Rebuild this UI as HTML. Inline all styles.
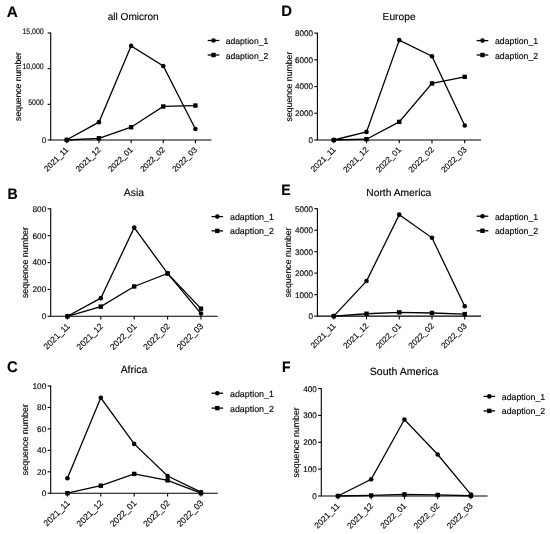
<!DOCTYPE html>
<html><head><meta charset="utf-8"><title>Figure</title>
<style>html,body{margin:0;padding:0;background:#fff}svg{display:block}</style></head>
<body>
<svg width="550" height="534" viewBox="0 0 550 534" font-family='"Liberation Sans", Arial, sans-serif' fill="#000"><style>text{stroke:#000;stroke-width:0.13px;text-rendering:geometricPrecision}</style>
<rect width="550" height="534" fill="#fff"/>
<g>
<text transform="translate(6.8 16.5) scale(1 1)" font-size="15.3" font-weight="bold" text-rendering="geometricPrecision">A</text>
<text x="133.2" y="19.6" font-size="10.10" text-anchor="middle">all Omicron</text>
<path d="M50.7 32.55V140H211.5" fill="none" stroke="#000" stroke-width="1.1"/>
<path d="M47.6 140.00H50.7" stroke="#000" stroke-width="1.1"/>
<text transform="translate(46.30 142.90) scale(1 1)" font-size="8.00" text-anchor="end">0</text>
<path d="M47.6 104.33H50.7" stroke="#000" stroke-width="1.1"/>
<text transform="translate(43.70 104.93) scale(0.87 1)" font-size="8.00" text-anchor="end">5000</text>
<path d="M47.6 68.67H50.7" stroke="#000" stroke-width="1.1"/>
<text transform="translate(43.70 69.27) scale(0.87 1)" font-size="8.00" text-anchor="end">10,000</text>
<path d="M47.6 33.00H50.7" stroke="#000" stroke-width="1.1"/>
<text transform="translate(43.70 33.60) scale(0.87 1)" font-size="8.00" text-anchor="end">15,000</text>
<text transform="translate(20.5 86.50) rotate(-90)" font-size="8.60" text-anchor="middle">sequence number</text>
<path d="M66.78 140V143.3" stroke="#000" stroke-width="1.1"/>
<text transform="translate(68.98 150.30) rotate(-45)" font-size="8.0" text-anchor="end">2021_11</text>
<path d="M98.94 140V143.3" stroke="#000" stroke-width="1.1"/>
<text transform="translate(101.14 150.30) rotate(-45)" font-size="8.0" text-anchor="end">2021_12</text>
<path d="M131.10 140V143.3" stroke="#000" stroke-width="1.1"/>
<text transform="translate(133.30 150.30) rotate(-45)" font-size="8.0" text-anchor="end">2022_01</text>
<path d="M163.26 140V143.3" stroke="#000" stroke-width="1.1"/>
<text transform="translate(165.46 150.30) rotate(-45)" font-size="8.0" text-anchor="end">2022_02</text>
<path d="M195.42 140V143.3" stroke="#000" stroke-width="1.1"/>
<text transform="translate(197.62 150.30) rotate(-45)" font-size="8.0" text-anchor="end">2022_03</text>
<polyline fill="none" stroke="#000" stroke-width="1.3" points="66.78,139.79 98.94,122.17 131.10,45.91 163.26,65.96 195.42,128.98"/>
<circle cx="66.78" cy="139.79" r="2.3"/>
<circle cx="98.94" cy="122.17" r="2.3"/>
<circle cx="131.10" cy="45.91" r="2.3"/>
<circle cx="163.26" cy="65.96" r="2.3"/>
<circle cx="195.42" cy="128.98" r="2.3"/>
<polyline fill="none" stroke="#000" stroke-width="1.3" points="66.78,140.00 98.94,138.29 131.10,127.23 163.26,106.47 195.42,105.55"/>
<rect x="64.58" y="137.80" width="4.4" height="4.4"/>
<rect x="96.74" y="136.09" width="4.4" height="4.4"/>
<rect x="128.90" y="125.03" width="4.4" height="4.4"/>
<rect x="161.06" y="104.27" width="4.4" height="4.4"/>
<rect x="193.22" y="103.35" width="4.4" height="4.4"/>
<path d="M207.7 40.5H219.3" stroke="#000" stroke-width="1.3"/>
<circle cx="213.5" cy="40.5" r="2.3"/>
<text x="225.7" y="44.00" font-size="8.60">adaption_1</text>
<path d="M207.7 55.0H219.3" stroke="#000" stroke-width="1.3"/>
<rect x="211.30" y="52.80" width="4.4" height="4.4"/>
<text x="225.7" y="58.50" font-size="8.60">adaption_2</text>
</g>
<g>
<text transform="translate(7.6 199.3) scale(0.92 1)" font-size="15.3" font-weight="bold" text-rendering="geometricPrecision">B</text>
<text x="134" y="195.5" font-size="10.45" text-anchor="middle">Asia</text>
<path d="M50.7 208.35000000000002V316.3H217.7" fill="none" stroke="#000" stroke-width="1.1"/>
<path d="M47.6 316.30H50.7" stroke="#000" stroke-width="1.1"/>
<text transform="translate(46.30 319.20) scale(1 1)" font-size="8.28" text-anchor="end">0</text>
<path d="M47.6 289.43H50.7" stroke="#000" stroke-width="1.1"/>
<text transform="translate(46.30 292.32) scale(1 1)" font-size="8.28" text-anchor="end">200</text>
<path d="M47.6 262.55H50.7" stroke="#000" stroke-width="1.1"/>
<text transform="translate(46.30 265.45) scale(1 1)" font-size="8.28" text-anchor="end">400</text>
<path d="M47.6 235.68H50.7" stroke="#000" stroke-width="1.1"/>
<text transform="translate(46.30 238.58) scale(1 1)" font-size="8.28" text-anchor="end">600</text>
<path d="M47.6 208.80H50.7" stroke="#000" stroke-width="1.1"/>
<text transform="translate(46.30 211.70) scale(1 1)" font-size="8.28" text-anchor="end">800</text>
<text transform="translate(27.5 262.55) rotate(-90)" font-size="8.90" text-anchor="middle">sequence number</text>
<path d="M67.40 316.3V319.6" stroke="#000" stroke-width="1.1"/>
<text transform="translate(70.30 326.80) rotate(-45)" font-size="8.6" text-anchor="end">2021_11</text>
<path d="M100.80 316.3V319.6" stroke="#000" stroke-width="1.1"/>
<text transform="translate(103.70 326.80) rotate(-45)" font-size="8.6" text-anchor="end">2021_12</text>
<path d="M134.20 316.3V319.6" stroke="#000" stroke-width="1.1"/>
<text transform="translate(137.10 326.80) rotate(-45)" font-size="8.6" text-anchor="end">2022_01</text>
<path d="M167.60 316.3V319.6" stroke="#000" stroke-width="1.1"/>
<text transform="translate(170.50 326.80) rotate(-45)" font-size="8.6" text-anchor="end">2022_02</text>
<path d="M201.00 316.3V319.6" stroke="#000" stroke-width="1.1"/>
<text transform="translate(203.90 326.80) rotate(-45)" font-size="8.6" text-anchor="end">2022_03</text>
<polyline fill="none" stroke="#000" stroke-width="1.3" points="67.40,316.30 100.80,298.16 134.20,227.61 167.60,273.43 201.00,313.61"/>
<circle cx="67.40" cy="316.30" r="2.3"/>
<circle cx="100.80" cy="298.16" r="2.3"/>
<circle cx="134.20" cy="227.61" r="2.3"/>
<circle cx="167.60" cy="273.43" r="2.3"/>
<circle cx="201.00" cy="313.61" r="2.3"/>
<polyline fill="none" stroke="#000" stroke-width="1.3" points="67.40,316.30 100.80,306.62 134.20,286.47 167.60,273.43 201.00,308.64"/>
<rect x="65.20" y="314.10" width="4.4" height="4.4"/>
<rect x="98.60" y="304.43" width="4.4" height="4.4"/>
<rect x="132.00" y="284.27" width="4.4" height="4.4"/>
<rect x="165.40" y="271.23" width="4.4" height="4.4"/>
<rect x="198.80" y="306.44" width="4.4" height="4.4"/>
<path d="M211.5 216.6H223.10000000000002" stroke="#000" stroke-width="1.3"/>
<circle cx="217.3" cy="216.6" r="2.3"/>
<text x="230" y="220.10" font-size="8.90">adaption_1</text>
<path d="M211.5 230.9H223.10000000000002" stroke="#000" stroke-width="1.3"/>
<rect x="215.10" y="228.70" width="4.4" height="4.4"/>
<text x="230" y="234.40" font-size="8.90">adaption_2</text>
</g>
<g>
<text transform="translate(6.9 371.7) scale(0.97 1)" font-size="15.3" font-weight="bold" text-rendering="geometricPrecision">C</text>
<text x="134" y="372.5" font-size="10.45" text-anchor="middle">Africa</text>
<path d="M50.7 385.55V493.2H217.7" fill="none" stroke="#000" stroke-width="1.1"/>
<path d="M47.6 493.20H50.7" stroke="#000" stroke-width="1.1"/>
<text transform="translate(46.30 496.10) scale(1 1)" font-size="8.28" text-anchor="end">0</text>
<path d="M47.6 471.76H50.7" stroke="#000" stroke-width="1.1"/>
<text transform="translate(46.30 474.66) scale(1 1)" font-size="8.28" text-anchor="end">20</text>
<path d="M47.6 450.32H50.7" stroke="#000" stroke-width="1.1"/>
<text transform="translate(46.30 453.22) scale(1 1)" font-size="8.28" text-anchor="end">40</text>
<path d="M47.6 428.88H50.7" stroke="#000" stroke-width="1.1"/>
<text transform="translate(46.30 431.78) scale(1 1)" font-size="8.28" text-anchor="end">60</text>
<path d="M47.6 407.44H50.7" stroke="#000" stroke-width="1.1"/>
<text transform="translate(46.30 410.34) scale(1 1)" font-size="8.28" text-anchor="end">80</text>
<path d="M47.6 386.00H50.7" stroke="#000" stroke-width="1.1"/>
<text transform="translate(46.30 388.90) scale(1 1)" font-size="8.28" text-anchor="end">100</text>
<text transform="translate(27.5 439.60) rotate(-90)" font-size="8.90" text-anchor="middle">sequence number</text>
<path d="M67.40 493.2V496.5" stroke="#000" stroke-width="1.1"/>
<text transform="translate(70.30 503.60) rotate(-45)" font-size="8.6" text-anchor="end">2021_11</text>
<path d="M100.80 493.2V496.5" stroke="#000" stroke-width="1.1"/>
<text transform="translate(103.70 503.60) rotate(-45)" font-size="8.6" text-anchor="end">2021_12</text>
<path d="M134.20 493.2V496.5" stroke="#000" stroke-width="1.1"/>
<text transform="translate(137.10 503.60) rotate(-45)" font-size="8.6" text-anchor="end">2022_01</text>
<path d="M167.60 493.2V496.5" stroke="#000" stroke-width="1.1"/>
<text transform="translate(170.50 503.60) rotate(-45)" font-size="8.6" text-anchor="end">2022_02</text>
<path d="M201.00 493.2V496.5" stroke="#000" stroke-width="1.1"/>
<text transform="translate(203.90 503.60) rotate(-45)" font-size="8.6" text-anchor="end">2022_03</text>
<polyline fill="none" stroke="#000" stroke-width="1.3" points="67.40,478.19 100.80,397.79 134.20,443.89 167.60,476.05 201.00,492.13"/>
<circle cx="67.40" cy="478.19" r="2.3"/>
<circle cx="100.80" cy="397.79" r="2.3"/>
<circle cx="134.20" cy="443.89" r="2.3"/>
<circle cx="167.60" cy="476.05" r="2.3"/>
<circle cx="201.00" cy="492.13" r="2.3"/>
<polyline fill="none" stroke="#000" stroke-width="1.3" points="67.40,493.20 100.80,485.70 134.20,473.90 167.60,480.34 201.00,493.20"/>
<rect x="65.20" y="491.00" width="4.4" height="4.4"/>
<rect x="98.60" y="483.50" width="4.4" height="4.4"/>
<rect x="132.00" y="471.70" width="4.4" height="4.4"/>
<rect x="165.40" y="478.14" width="4.4" height="4.4"/>
<rect x="198.80" y="491.00" width="4.4" height="4.4"/>
<path d="M211.5 393.2H223.10000000000002" stroke="#000" stroke-width="1.3"/>
<circle cx="217.3" cy="393.2" r="2.3"/>
<text x="230" y="396.70" font-size="8.90">adaption_1</text>
<path d="M211.5 408.1H223.10000000000002" stroke="#000" stroke-width="1.3"/>
<rect x="215.10" y="405.90" width="4.4" height="4.4"/>
<text x="230" y="411.60" font-size="8.90">adaption_2</text>
</g>
<g>
<text transform="translate(281.2 16.3) scale(0.97 1)" font-size="15.3" font-weight="bold" text-rendering="geometricPrecision">D</text>
<text x="399.1" y="19.6" font-size="10.25" text-anchor="middle">Europe</text>
<path d="M317.4 32.65V140H481.1" fill="none" stroke="#000" stroke-width="1.1"/>
<path d="M314.29999999999995 140.00H317.4" stroke="#000" stroke-width="1.1"/>
<text transform="translate(313.00 142.90) scale(1 1)" font-size="8.12" text-anchor="end">0</text>
<path d="M314.29999999999995 113.28H317.4" stroke="#000" stroke-width="1.1"/>
<text transform="translate(313.00 116.18) scale(1 1)" font-size="8.12" text-anchor="end">2000</text>
<path d="M314.29999999999995 86.55H317.4" stroke="#000" stroke-width="1.1"/>
<text transform="translate(313.00 89.45) scale(1 1)" font-size="8.12" text-anchor="end">4000</text>
<path d="M314.29999999999995 59.83H317.4" stroke="#000" stroke-width="1.1"/>
<text transform="translate(313.00 62.73) scale(1 1)" font-size="8.12" text-anchor="end">6000</text>
<path d="M314.29999999999995 33.10H317.4" stroke="#000" stroke-width="1.1"/>
<text transform="translate(313.00 36.00) scale(1 1)" font-size="8.12" text-anchor="end">8000</text>
<text transform="translate(291.5 86.55) rotate(-90)" font-size="8.73" text-anchor="middle">sequence number</text>
<path d="M333.77 140V143.3" stroke="#000" stroke-width="1.1"/>
<text transform="translate(336.37 150.30) rotate(-45)" font-size="8.25" text-anchor="end">2021_11</text>
<path d="M366.51 140V143.3" stroke="#000" stroke-width="1.1"/>
<text transform="translate(369.11 150.30) rotate(-45)" font-size="8.25" text-anchor="end">2021_12</text>
<path d="M399.25 140V143.3" stroke="#000" stroke-width="1.1"/>
<text transform="translate(401.85 150.30) rotate(-45)" font-size="8.25" text-anchor="end">2022_01</text>
<path d="M431.99 140V143.3" stroke="#000" stroke-width="1.1"/>
<text transform="translate(434.59 150.30) rotate(-45)" font-size="8.25" text-anchor="end">2022_02</text>
<path d="M464.73 140V143.3" stroke="#000" stroke-width="1.1"/>
<text transform="translate(467.33 150.30) rotate(-45)" font-size="8.25" text-anchor="end">2022_03</text>
<polyline fill="none" stroke="#000" stroke-width="1.3" points="333.77,140.00 366.51,131.89 399.25,40.12 431.99,56.22 464.73,125.49"/>
<circle cx="333.77" cy="140.00" r="2.3"/>
<circle cx="366.51" cy="131.89" r="2.3"/>
<circle cx="399.25" cy="40.12" r="2.3"/>
<circle cx="431.99" cy="56.22" r="2.3"/>
<circle cx="464.73" cy="125.49" r="2.3"/>
<polyline fill="none" stroke="#000" stroke-width="1.3" points="333.77,140.00 366.51,139.20 399.25,121.88 431.99,83.45 464.73,76.84"/>
<rect x="331.57" y="137.80" width="4.4" height="4.4"/>
<rect x="364.31" y="137.00" width="4.4" height="4.4"/>
<rect x="397.05" y="119.68" width="4.4" height="4.4"/>
<rect x="429.79" y="81.25" width="4.4" height="4.4"/>
<rect x="462.53" y="74.64" width="4.4" height="4.4"/>
<path d="M476.7 40.6H488.3" stroke="#000" stroke-width="1.3"/>
<circle cx="482.5" cy="40.6" r="2.3"/>
<text x="495" y="44.10" font-size="8.73">adaption_1</text>
<path d="M476.7 55.0H488.3" stroke="#000" stroke-width="1.3"/>
<rect x="480.30" y="52.80" width="4.4" height="4.4"/>
<text x="495" y="58.50" font-size="8.73">adaption_2</text>
</g>
<g>
<text transform="translate(281.2 194.7) scale(0.92 1)" font-size="15.3" font-weight="bold" text-rendering="geometricPrecision">E</text>
<text x="398.8" y="195.5" font-size="10.25" text-anchor="middle">North America</text>
<path d="M317.4 208.25V316.1H481.1" fill="none" stroke="#000" stroke-width="1.1"/>
<path d="M314.29999999999995 316.10H317.4" stroke="#000" stroke-width="1.1"/>
<text transform="translate(313.00 319.00) scale(1 1)" font-size="8.12" text-anchor="end">0</text>
<path d="M314.29999999999995 294.62H317.4" stroke="#000" stroke-width="1.1"/>
<text transform="translate(313.00 297.52) scale(1 1)" font-size="8.12" text-anchor="end">1000</text>
<path d="M314.29999999999995 273.14H317.4" stroke="#000" stroke-width="1.1"/>
<text transform="translate(313.00 276.04) scale(1 1)" font-size="8.12" text-anchor="end">2000</text>
<path d="M314.29999999999995 251.66H317.4" stroke="#000" stroke-width="1.1"/>
<text transform="translate(313.00 254.56) scale(1 1)" font-size="8.12" text-anchor="end">3000</text>
<path d="M314.29999999999995 230.18H317.4" stroke="#000" stroke-width="1.1"/>
<text transform="translate(313.00 233.08) scale(1 1)" font-size="8.12" text-anchor="end">4000</text>
<path d="M314.29999999999995 208.70H317.4" stroke="#000" stroke-width="1.1"/>
<text transform="translate(313.00 211.60) scale(1 1)" font-size="8.12" text-anchor="end">5000</text>
<text transform="translate(291 262.40) rotate(-90)" font-size="8.73" text-anchor="middle">sequence number</text>
<path d="M333.77 316.1V319.40000000000003" stroke="#000" stroke-width="1.1"/>
<text transform="translate(336.37 326.40) rotate(-45)" font-size="8.25" text-anchor="end">2021_11</text>
<path d="M366.51 316.1V319.40000000000003" stroke="#000" stroke-width="1.1"/>
<text transform="translate(369.11 326.40) rotate(-45)" font-size="8.25" text-anchor="end">2021_12</text>
<path d="M399.25 316.1V319.40000000000003" stroke="#000" stroke-width="1.1"/>
<text transform="translate(401.85 326.40) rotate(-45)" font-size="8.25" text-anchor="end">2022_01</text>
<path d="M431.99 316.1V319.40000000000003" stroke="#000" stroke-width="1.1"/>
<text transform="translate(434.59 326.40) rotate(-45)" font-size="8.25" text-anchor="end">2022_02</text>
<path d="M464.73 316.1V319.40000000000003" stroke="#000" stroke-width="1.1"/>
<text transform="translate(467.33 326.40) rotate(-45)" font-size="8.25" text-anchor="end">2022_03</text>
<polyline fill="none" stroke="#000" stroke-width="1.3" points="333.77,316.10 366.51,281.07 399.25,214.63 431.99,237.81 464.73,306.26"/>
<circle cx="333.77" cy="316.10" r="2.3"/>
<circle cx="366.51" cy="281.07" r="2.3"/>
<circle cx="399.25" cy="214.63" r="2.3"/>
<circle cx="431.99" cy="237.81" r="2.3"/>
<circle cx="464.73" cy="306.26" r="2.3"/>
<polyline fill="none" stroke="#000" stroke-width="1.3" points="333.77,316.10 366.51,313.74 399.25,312.34 431.99,312.99 464.73,314.06"/>
<rect x="331.57" y="313.90" width="4.4" height="4.4"/>
<rect x="364.31" y="311.54" width="4.4" height="4.4"/>
<rect x="397.05" y="310.14" width="4.4" height="4.4"/>
<rect x="429.79" y="310.79" width="4.4" height="4.4"/>
<rect x="462.53" y="311.86" width="4.4" height="4.4"/>
<path d="M476.7 216.2H488.3" stroke="#000" stroke-width="1.3"/>
<circle cx="482.5" cy="216.2" r="2.3"/>
<text x="495" y="219.70" font-size="8.73">adaption_1</text>
<path d="M476.7 230.8H488.3" stroke="#000" stroke-width="1.3"/>
<rect x="480.30" y="228.60" width="4.4" height="4.4"/>
<text x="495" y="234.30" font-size="8.73">adaption_2</text>
</g>
<g>
<text transform="translate(282.1 372.4) scale(0.91 1)" font-size="15.3" font-weight="bold" text-rendering="geometricPrecision">F</text>
<text x="404.1" y="375.2" font-size="10.55" text-anchor="middle">South America</text>
<path d="M321.3 388.15000000000003V496H487.6" fill="none" stroke="#000" stroke-width="1.1"/>
<path d="M318.2 496.00H321.3" stroke="#000" stroke-width="1.1"/>
<text transform="translate(316.90 498.90) scale(1 1)" font-size="8.16" text-anchor="end">0</text>
<path d="M318.2 469.15H321.3" stroke="#000" stroke-width="1.1"/>
<text transform="translate(316.90 472.05) scale(1 1)" font-size="8.16" text-anchor="end">100</text>
<path d="M318.2 442.30H321.3" stroke="#000" stroke-width="1.1"/>
<text transform="translate(316.90 445.20) scale(1 1)" font-size="8.16" text-anchor="end">200</text>
<path d="M318.2 415.45H321.3" stroke="#000" stroke-width="1.1"/>
<text transform="translate(316.90 418.35) scale(1 1)" font-size="8.16" text-anchor="end">300</text>
<path d="M318.2 388.60H321.3" stroke="#000" stroke-width="1.1"/>
<text transform="translate(316.90 391.50) scale(1 1)" font-size="8.16" text-anchor="end">400</text>
<text transform="translate(298.6 442.30) rotate(-90)" font-size="8.77" text-anchor="middle">sequence number</text>
<path d="M337.93 496V499.3" stroke="#000" stroke-width="1.1"/>
<text transform="translate(340.23 506.40) rotate(-45)" font-size="8.35" text-anchor="end">2021_11</text>
<path d="M371.19 496V499.3" stroke="#000" stroke-width="1.1"/>
<text transform="translate(373.49 506.40) rotate(-45)" font-size="8.35" text-anchor="end">2021_12</text>
<path d="M404.45 496V499.3" stroke="#000" stroke-width="1.1"/>
<text transform="translate(406.75 506.40) rotate(-45)" font-size="8.35" text-anchor="end">2022_01</text>
<path d="M437.71 496V499.3" stroke="#000" stroke-width="1.1"/>
<text transform="translate(440.01 506.40) rotate(-45)" font-size="8.35" text-anchor="end">2022_02</text>
<path d="M470.97 496V499.3" stroke="#000" stroke-width="1.1"/>
<text transform="translate(473.27 506.40) rotate(-45)" font-size="8.35" text-anchor="end">2022_03</text>
<polyline fill="none" stroke="#000" stroke-width="1.3" points="337.93,496.00 371.19,479.35 404.45,419.48 437.71,454.49 470.97,494.66"/>
<circle cx="337.93" cy="496.00" r="2.3"/>
<circle cx="371.19" cy="479.35" r="2.3"/>
<circle cx="404.45" cy="419.48" r="2.3"/>
<circle cx="437.71" cy="454.49" r="2.3"/>
<circle cx="470.97" cy="494.66" r="2.3"/>
<polyline fill="none" stroke="#000" stroke-width="1.3" points="337.93,496.00 371.19,495.46 404.45,494.39 437.71,494.93 470.97,495.73"/>
<rect x="335.73" y="493.80" width="4.4" height="4.4"/>
<rect x="368.99" y="493.26" width="4.4" height="4.4"/>
<rect x="402.25" y="492.19" width="4.4" height="4.4"/>
<rect x="435.51" y="492.73" width="4.4" height="4.4"/>
<rect x="468.77" y="493.53" width="4.4" height="4.4"/>
<path d="M483.5 396.4H495.1" stroke="#000" stroke-width="1.3"/>
<circle cx="489.3" cy="396.4" r="2.3"/>
<text x="501.8" y="399.90" font-size="8.77">adaption_1</text>
<path d="M483.5 410.9H495.1" stroke="#000" stroke-width="1.3"/>
<rect x="487.10" y="408.70" width="4.4" height="4.4"/>
<text x="501.8" y="414.40" font-size="8.77">adaption_2</text>
</g>
</svg>
</body></html>
